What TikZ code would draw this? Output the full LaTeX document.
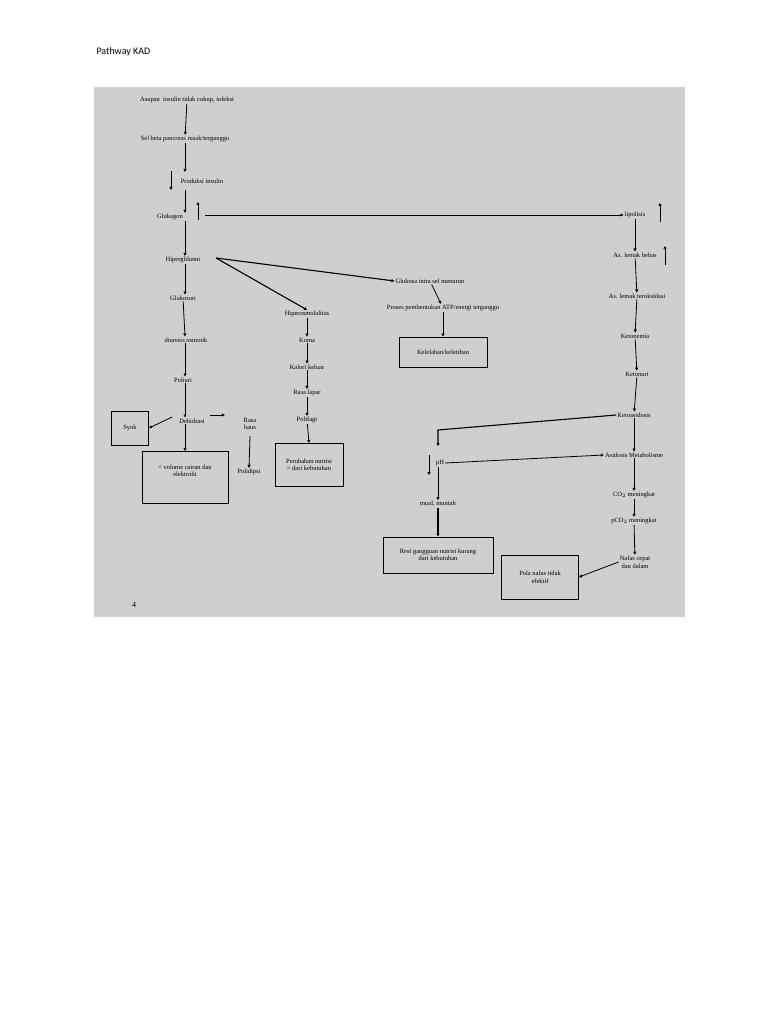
\documentclass[tikz,border=0pt]{standalone}
\usepackage{fontspec}
\setmainfont{Liberation Serif}
\newfontfamily\hdr{Carlito}
\usetikzlibrary{arrows.meta}
\begin{document}
\begin{tikzpicture}[x=1pt,y=-1pt,
  t/.style={font=\fontsize{6.5}{7.5}\selectfont, inner sep=1pt, align=center},
  bx/.style={draw, line width=1pt, font=\fontsize{6.5}{7.5}\selectfont, align=center},
  ar/.style={-{Triangle[length=3pt,width=3pt]}, line width=0.8pt}]
\useasboundingbox (0,0) rectangle (768,1024);
\fill[white] (0,0) rectangle (768,1024);
\fill[gray!38] (94,87) rectangle (685,617);
\node[font=\hdr\fontsize{10}{12}\selectfont, anchor=west] (title) at (93,52) {Pathway KAD};
\node[t] (a1) at (187,100) {Asupan\ \ insulin tidak cukup, infeksi};
\node[t] (a2) at (185,139) {Sel beta pancreas rusak/terganggu};
\node[t] (a3) at (202,181) {Produksi insulin};
\node[t] (a4) at (170,217) {Glukagon};
\node[t] (a5) at (183,260) {Hiperglikemi};
\node[t] (a6) at (183,298) {Glukosuri};
\node[t] (a7) at (186,340) {diuresis osmotik};
\node[t] (a8) at (183,380) {Poliuri};
\node[t] (a9) at (192,421) {Dehidrasi};
\node[bx, minimum width=37pt, minimum height=34pt] (syok) at (130,428) {Syok};
\node[bx, minimum width=86pt, minimum height=52pt, anchor=north] (vol) at (185,451) {\raisebox{12pt}{}< volume cairan dan\\elektrolit\\[14pt]};
\node[t] (haus) at (250,424) {Rasa\\haus};
\node[t] (dips) at (249,472) {Polidipsi};
\node[t] (h1) at (307,314) {Hiperosmolalitas};
\node[t] (h2) at (307,340) {Koma};
\node[t] (h3) at (307,367) {Kalori keluar};
\node[t] (h4) at (307,393) {Rasa lapar};
\node[t] (h5) at (307,420) {Polifagi};
\node[bx, minimum width=68pt, minimum height=43pt] (perub) at (309,465) {Perubahan nutrisi\\> dari kebutuhan};
\node[t] (g1) at (430,281) {Glukosa intra sel menurun};
\node[t] (g2) at (443,308) {Proses pembentukan ATP/energi terganggu};
\node[bx, minimum width=88pt, minimum height=30pt] (lelah) at (443,352) {Kelelahan/keletihan};
\node[t] (k1) at (635,215) {lipolisis};
\node[t] (k2) at (635,255) {As. lemak bebas};
\node[t] (k3) at (637,296) {As. lemak teroksidasi};
\node[t] (k4) at (635,336) {Ketonemia};
\node[t] (k5) at (637,374) {Ketonuri};
\node[t] (k6) at (634,415) {Ketoasidosis};
\node[t] (k7) at (634,455) {Asidosis Metabolisme};
\node[t] (k8) at (634,495) {CO$_2$ meningkat};
\node[t] (k9) at (634,521) {pCO$_2$ meningkat};
\node[t] (k10) at (635,562) {Nafas cepat\\dan dalam};
\node[bx, minimum width=77pt, minimum height=44pt] (pola) at (540,577) {Pola nafas tidak\\efektif};
\node[t] (ph) at (440,463) {pH};
\node[t] (mual) at (438,504) {mual, muntah};
\node[bx, minimum width=110pt, minimum height=36pt] (resi) at (438,555) {Resi gangguan nutrisi kurang\\dari kebutuhan};
\node[t, font=\fontsize{8}{9}\selectfont] (pg) at (134,605) {4};
% side indicator arrows
\coordinate (d1s) at (171,171); \coordinate (d1e) at (171,190);
\draw[ar] (d1s) -- (d1e);
\coordinate (u1s) at (198,220); \coordinate (u1e) at (198,202);
\draw[ar] (u1s) -- (u1e);
\coordinate (u2s) at (660,222); \coordinate (u2e) at (660,203);
\draw[ar] (u2s) -- (u2e);
\coordinate (u3s) at (665,265); \coordinate (u3e) at (665,246);
\draw[ar] (u3s) -- (u3e);
\coordinate (d2s) at (429,455); \coordinate (d2e) at (429,475);
\draw[ar] (d2s) -- (d2e);
% main chain
\draw[ar] (a1) -- (a2);
\draw[ar] (a2) -- (185,172);
\draw[ar] (185,190) -- (a4.north -| 185,0);
\draw[ar] (a4.south -| 185,0) -- (a5.north -| 185,0);
\draw[ar] (a5.south -| 185,0) -- (a6.north -| 185,0);
\draw[ar] (a6) -- (a7.north -| 185,0);
\draw[ar] (a7.south -| 185,0) -- (a8.north -| 185,0);
\draw[ar] (a8.south -| 185,0) -- (a9.north -| 185,0);
\draw[ar] (a9.south -| 185,0) -- (vol.north -| 185,0);
\draw[ar] (a9.west) ++(-6,-4) -- (syok.east);
\draw[ar] (a9.east) ++(4,-6) -- ++(15,0);
\draw[ar] (haus.south) ++(0,5) -- (dips.north);
\coordinate (gl) at (205,215);
\draw[ar] (gl) -- (k1.west);
\coordinate (hg) at (216,258);
\draw[ar, line width=1.1pt] (hg) -- (g1.west);
\draw[ar, line width=1.1pt] (hg) -- (h1.north);
\draw[ar] (h1) -- (h2);
\draw[ar] (h2) -- (h3);
\draw[ar] (h3) -- (h4);
\draw[ar] (h4) -- (h5);
\draw[ar] (h5) -- (perub.north);
\draw[ar] (g1) -- (g2);
\draw[ar] (g2.south) -- (lelah.north);
\draw[ar] (k1) -- (k2);
\draw[ar] (k2) -- (k3);
\draw[ar] (k3) -- (k4);
\draw[ar] (k4) -- (k5);
\draw[ar] (k5) -- (k6);
\draw[ar] (k6) -- (k7);
\draw[ar] (k7) -- (k8);
\draw[ar] (k8) -- (k9);
\draw[ar] (k9) -- (k10);
\draw[ar] (k10.west) -- (pola.east);
\draw[ar, line width=1.1pt] (k6.west) -- (438,430) -- (438,446);
\draw[ar] (ph.east) -- (k7.west);
\draw[ar] (ph.south -| 438,0) -- (mual.north);
\draw[ar, line width=1.1pt] (mual.south) -- (resi.north);
\end{tikzpicture}
\end{document}
